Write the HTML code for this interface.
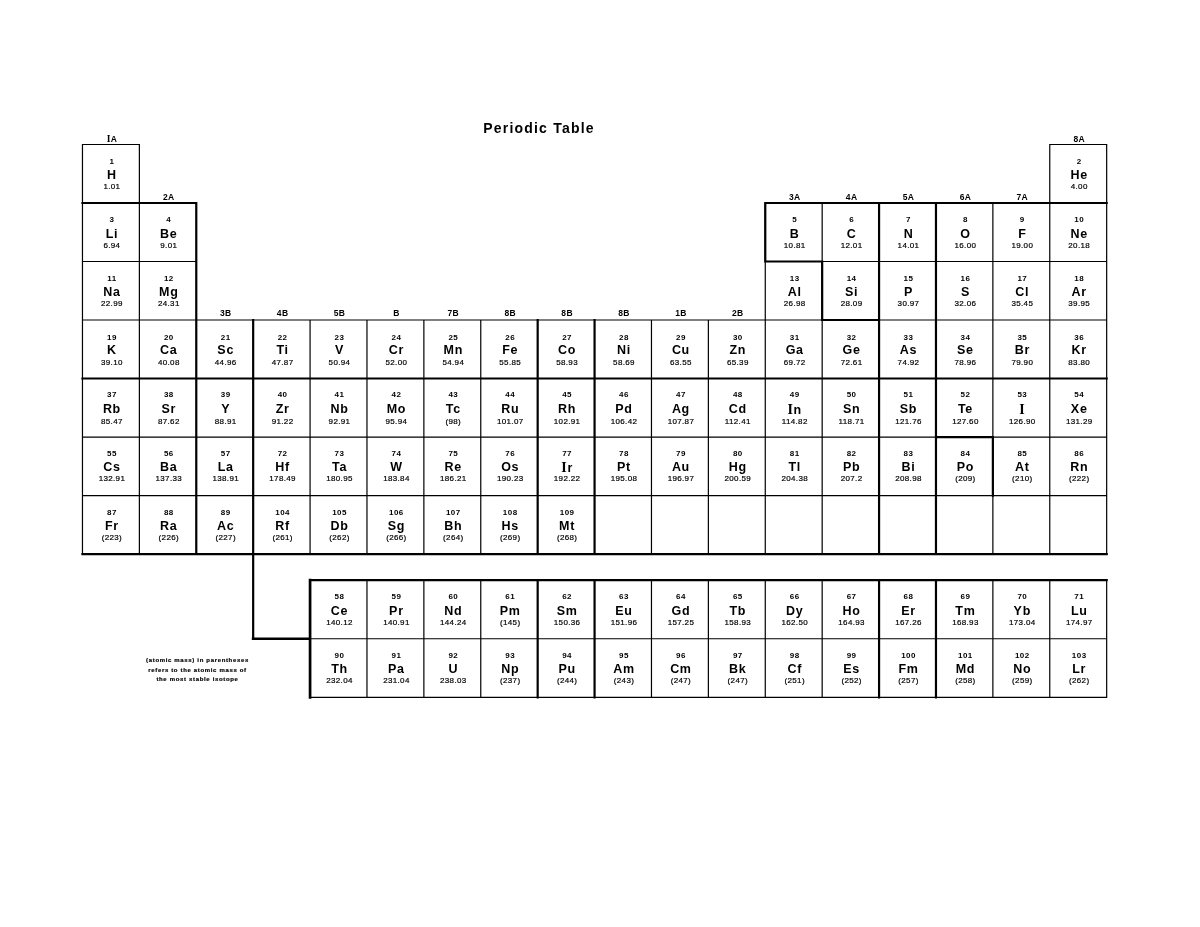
<!DOCTYPE html><html><head><meta charset="utf-8"><style>
html,body{margin:0;padding:0;background:#fff;}
body{width:1200px;height:927px;position:relative;overflow:hidden;font-family:"Liberation Sans",sans-serif;font-weight:bold;color:#000;}
.c{position:absolute;text-align:center;white-space:nowrap;line-height:1;}
#w{position:absolute;left:0;top:0;width:1200px;height:927px;will-change:transform;}
.n{font-size:8px;letter-spacing:0.45px;}
.s{font-size:12.5px;letter-spacing:0.7px;}
.m{font-size:8px;letter-spacing:0.35px;font-weight:normal;-webkit-text-stroke:0.2px #000;}
.g{font-size:8.5px;letter-spacing:0.3px;}
svg{position:absolute;left:0;top:0;}
.i{font-family:"Liberation Serif",serif;font-size:1.12em;}
</style></head><body>
<div id="w">
<svg width="1200" height="927" viewBox="0 0 1200 927"><path d="M82.47 144.48H139.37M1049.77 144.48H1106.67M82.47 144.48V554.05M139.37 144.48V554.05M1049.77 144.48V554.05M1106.67 144.48V554.05M765.27 202.99V554.05M822.17 202.99V554.05M992.87 202.99V554.05M82.47 261.5H196.27M765.27 261.5H1106.67M82.47 320.01H1106.67M82.47 437.03H1106.67M82.47 495.54H1106.67M310.07 320.01V554.05M366.97 320.01V554.05M423.87 320.01V554.05M480.77 320.01V554.05M651.47 320.01V554.05M708.37 320.01V554.05M310.07 638.74H1106.67M310.07 697.41H1106.67M366.97 580.07V697.41M423.87 580.07V697.41M480.77 580.07V697.41M651.47 580.07V697.41M708.37 580.07V697.41M765.27 580.07V697.41M822.17 580.07V697.41M992.87 580.07V697.41M1049.77 580.07V697.41M1106.67 580.07V697.41" stroke="#000" stroke-width="1.2" fill="none" stroke-linecap="square"/><path d="M82.47 202.99H196.27M765.27 202.99H1106.67M196.27 202.99V554.05M879.07 202.99V554.05M935.97 202.99V554.05M82.47 378.52H1106.67M82.47 554.05H1106.67M253.17 320.01V554.05M537.67 320.01V554.05M594.57 320.01V554.05M765.27 202.99V261.5M765.27 261.5H822.17M822.17 261.5V320.01M822.17 320.01H879.07M935.97 437.03H992.87M992.87 437.03V495.54M253.17 554.05V638.74M310.07 580.07H1106.67M537.67 580.07V697.41M594.57 580.07V697.41M879.07 580.07V697.41M935.97 580.07V697.41" stroke="#000" stroke-width="2.2" fill="none" stroke-linecap="square"/><path d="M253.17 638.74H310.07M310.07 580.07V697.41" stroke="#000" stroke-width="2.7" fill="none" stroke-linecap="square"/></svg>
<div class="c" style="left:389px;width:300px;top:121px;font-size:14px;letter-spacing:1.2px;">Periodic Table</div>
<div class="c n" style="left:83.47px;top:157.68px;width:56.9px">1</div>
<div class="c s" style="left:83.47px;top:169.08px;width:56.9px">H</div>
<div class="c m" style="left:83.47px;top:183.38px;width:56.9px">1.01</div>
<div class="c n" style="left:1050.77px;top:157.68px;width:56.9px">2</div>
<div class="c s" style="left:1050.77px;top:169.08px;width:56.9px">He</div>
<div class="c m" style="left:1050.77px;top:183.38px;width:56.9px">4.00</div>
<div class="c n" style="left:83.47px;top:216.19px;width:56.9px">3</div>
<div class="c s" style="left:83.47px;top:227.59px;width:56.9px">Li</div>
<div class="c m" style="left:83.47px;top:241.89px;width:56.9px">6.94</div>
<div class="c n" style="left:140.37px;top:216.19px;width:56.9px">4</div>
<div class="c s" style="left:140.37px;top:227.59px;width:56.9px">Be</div>
<div class="c m" style="left:140.37px;top:241.89px;width:56.9px">9.01</div>
<div class="c n" style="left:766.27px;top:216.19px;width:56.9px">5</div>
<div class="c s" style="left:766.27px;top:227.59px;width:56.9px">B</div>
<div class="c m" style="left:766.27px;top:241.89px;width:56.9px">10.81</div>
<div class="c n" style="left:823.17px;top:216.19px;width:56.9px">6</div>
<div class="c s" style="left:823.17px;top:227.59px;width:56.9px">C</div>
<div class="c m" style="left:823.17px;top:241.89px;width:56.9px">12.01</div>
<div class="c n" style="left:880.07px;top:216.19px;width:56.9px">7</div>
<div class="c s" style="left:880.07px;top:227.59px;width:56.9px">N</div>
<div class="c m" style="left:880.07px;top:241.89px;width:56.9px">14.01</div>
<div class="c n" style="left:936.97px;top:216.19px;width:56.9px">8</div>
<div class="c s" style="left:936.97px;top:227.59px;width:56.9px">O</div>
<div class="c m" style="left:936.97px;top:241.89px;width:56.9px">16.00</div>
<div class="c n" style="left:993.87px;top:216.19px;width:56.9px">9</div>
<div class="c s" style="left:993.87px;top:227.59px;width:56.9px">F</div>
<div class="c m" style="left:993.87px;top:241.89px;width:56.9px">19.00</div>
<div class="c n" style="left:1050.77px;top:216.19px;width:56.9px">10</div>
<div class="c s" style="left:1050.77px;top:227.59px;width:56.9px">Ne</div>
<div class="c m" style="left:1050.77px;top:241.89px;width:56.9px">20.18</div>
<div class="c n" style="left:83.47px;top:274.7px;width:56.9px">11</div>
<div class="c s" style="left:83.47px;top:286.1px;width:56.9px">Na</div>
<div class="c m" style="left:83.47px;top:300.4px;width:56.9px">22.99</div>
<div class="c n" style="left:140.37px;top:274.7px;width:56.9px">12</div>
<div class="c s" style="left:140.37px;top:286.1px;width:56.9px">Mg</div>
<div class="c m" style="left:140.37px;top:300.4px;width:56.9px">24.31</div>
<div class="c n" style="left:766.27px;top:274.7px;width:56.9px">13</div>
<div class="c s" style="left:766.27px;top:286.1px;width:56.9px">Al</div>
<div class="c m" style="left:766.27px;top:300.4px;width:56.9px">26.98</div>
<div class="c n" style="left:823.17px;top:274.7px;width:56.9px">14</div>
<div class="c s" style="left:823.17px;top:286.1px;width:56.9px">Si</div>
<div class="c m" style="left:823.17px;top:300.4px;width:56.9px">28.09</div>
<div class="c n" style="left:880.07px;top:274.7px;width:56.9px">15</div>
<div class="c s" style="left:880.07px;top:286.1px;width:56.9px">P</div>
<div class="c m" style="left:880.07px;top:300.4px;width:56.9px">30.97</div>
<div class="c n" style="left:936.97px;top:274.7px;width:56.9px">16</div>
<div class="c s" style="left:936.97px;top:286.1px;width:56.9px">S</div>
<div class="c m" style="left:936.97px;top:300.4px;width:56.9px">32.06</div>
<div class="c n" style="left:993.87px;top:274.7px;width:56.9px">17</div>
<div class="c s" style="left:993.87px;top:286.1px;width:56.9px">Cl</div>
<div class="c m" style="left:993.87px;top:300.4px;width:56.9px">35.45</div>
<div class="c n" style="left:1050.77px;top:274.7px;width:56.9px">18</div>
<div class="c s" style="left:1050.77px;top:286.1px;width:56.9px">Ar</div>
<div class="c m" style="left:1050.77px;top:300.4px;width:56.9px">39.95</div>
<div class="c n" style="left:83.47px;top:334.21px;width:56.9px">19</div>
<div class="c s" style="left:83.47px;top:343.61px;width:56.9px">K</div>
<div class="c m" style="left:83.47px;top:358.91px;width:56.9px">39.10</div>
<div class="c n" style="left:140.37px;top:334.21px;width:56.9px">20</div>
<div class="c s" style="left:140.37px;top:343.61px;width:56.9px">Ca</div>
<div class="c m" style="left:140.37px;top:358.91px;width:56.9px">40.08</div>
<div class="c n" style="left:197.27px;top:334.21px;width:56.9px">21</div>
<div class="c s" style="left:197.27px;top:343.61px;width:56.9px">Sc</div>
<div class="c m" style="left:197.27px;top:358.91px;width:56.9px">44.96</div>
<div class="c n" style="left:254.17px;top:334.21px;width:56.9px">22</div>
<div class="c s" style="left:254.17px;top:343.61px;width:56.9px">Ti</div>
<div class="c m" style="left:254.17px;top:358.91px;width:56.9px">47.87</div>
<div class="c n" style="left:311.07px;top:334.21px;width:56.9px">23</div>
<div class="c s" style="left:311.07px;top:343.61px;width:56.9px">V</div>
<div class="c m" style="left:311.07px;top:358.91px;width:56.9px">50.94</div>
<div class="c n" style="left:367.97px;top:334.21px;width:56.9px">24</div>
<div class="c s" style="left:367.97px;top:343.61px;width:56.9px">Cr</div>
<div class="c m" style="left:367.97px;top:358.91px;width:56.9px">52.00</div>
<div class="c n" style="left:424.87px;top:334.21px;width:56.9px">25</div>
<div class="c s" style="left:424.87px;top:343.61px;width:56.9px">Mn</div>
<div class="c m" style="left:424.87px;top:358.91px;width:56.9px">54.94</div>
<div class="c n" style="left:481.77px;top:334.21px;width:56.9px">26</div>
<div class="c s" style="left:481.77px;top:343.61px;width:56.9px">Fe</div>
<div class="c m" style="left:481.77px;top:358.91px;width:56.9px">55.85</div>
<div class="c n" style="left:538.67px;top:334.21px;width:56.9px">27</div>
<div class="c s" style="left:538.67px;top:343.61px;width:56.9px">Co</div>
<div class="c m" style="left:538.67px;top:358.91px;width:56.9px">58.93</div>
<div class="c n" style="left:595.57px;top:334.21px;width:56.9px">28</div>
<div class="c s" style="left:595.57px;top:343.61px;width:56.9px">Ni</div>
<div class="c m" style="left:595.57px;top:358.91px;width:56.9px">58.69</div>
<div class="c n" style="left:652.47px;top:334.21px;width:56.9px">29</div>
<div class="c s" style="left:652.47px;top:343.61px;width:56.9px">Cu</div>
<div class="c m" style="left:652.47px;top:358.91px;width:56.9px">63.55</div>
<div class="c n" style="left:709.37px;top:334.21px;width:56.9px">30</div>
<div class="c s" style="left:709.37px;top:343.61px;width:56.9px">Zn</div>
<div class="c m" style="left:709.37px;top:358.91px;width:56.9px">65.39</div>
<div class="c n" style="left:766.27px;top:334.21px;width:56.9px">31</div>
<div class="c s" style="left:766.27px;top:343.61px;width:56.9px">Ga</div>
<div class="c m" style="left:766.27px;top:358.91px;width:56.9px">69.72</div>
<div class="c n" style="left:823.17px;top:334.21px;width:56.9px">32</div>
<div class="c s" style="left:823.17px;top:343.61px;width:56.9px">Ge</div>
<div class="c m" style="left:823.17px;top:358.91px;width:56.9px">72.61</div>
<div class="c n" style="left:880.07px;top:334.21px;width:56.9px">33</div>
<div class="c s" style="left:880.07px;top:343.61px;width:56.9px">As</div>
<div class="c m" style="left:880.07px;top:358.91px;width:56.9px">74.92</div>
<div class="c n" style="left:936.97px;top:334.21px;width:56.9px">34</div>
<div class="c s" style="left:936.97px;top:343.61px;width:56.9px">Se</div>
<div class="c m" style="left:936.97px;top:358.91px;width:56.9px">78.96</div>
<div class="c n" style="left:993.87px;top:334.21px;width:56.9px">35</div>
<div class="c s" style="left:993.87px;top:343.61px;width:56.9px">Br</div>
<div class="c m" style="left:993.87px;top:358.91px;width:56.9px">79.90</div>
<div class="c n" style="left:1050.77px;top:334.21px;width:56.9px">36</div>
<div class="c s" style="left:1050.77px;top:343.61px;width:56.9px">Kr</div>
<div class="c m" style="left:1050.77px;top:358.91px;width:56.9px">83.80</div>
<div class="c n" style="left:83.47px;top:390.72px;width:56.9px">37</div>
<div class="c s" style="left:83.47px;top:403.12px;width:56.9px">Rb</div>
<div class="c m" style="left:83.47px;top:418.42px;width:56.9px">85.47</div>
<div class="c n" style="left:140.37px;top:390.72px;width:56.9px">38</div>
<div class="c s" style="left:140.37px;top:403.12px;width:56.9px">Sr</div>
<div class="c m" style="left:140.37px;top:418.42px;width:56.9px">87.62</div>
<div class="c n" style="left:197.27px;top:390.72px;width:56.9px">39</div>
<div class="c s" style="left:197.27px;top:403.12px;width:56.9px">Y</div>
<div class="c m" style="left:197.27px;top:418.42px;width:56.9px">88.91</div>
<div class="c n" style="left:254.17px;top:390.72px;width:56.9px">40</div>
<div class="c s" style="left:254.17px;top:403.12px;width:56.9px">Zr</div>
<div class="c m" style="left:254.17px;top:418.42px;width:56.9px">91.22</div>
<div class="c n" style="left:311.07px;top:390.72px;width:56.9px">41</div>
<div class="c s" style="left:311.07px;top:403.12px;width:56.9px">Nb</div>
<div class="c m" style="left:311.07px;top:418.42px;width:56.9px">92.91</div>
<div class="c n" style="left:367.97px;top:390.72px;width:56.9px">42</div>
<div class="c s" style="left:367.97px;top:403.12px;width:56.9px">Mo</div>
<div class="c m" style="left:367.97px;top:418.42px;width:56.9px">95.94</div>
<div class="c n" style="left:424.87px;top:390.72px;width:56.9px">43</div>
<div class="c s" style="left:424.87px;top:403.12px;width:56.9px">Tc</div>
<div class="c m" style="left:424.87px;top:418.42px;width:56.9px">(98)</div>
<div class="c n" style="left:481.77px;top:390.72px;width:56.9px">44</div>
<div class="c s" style="left:481.77px;top:403.12px;width:56.9px">Ru</div>
<div class="c m" style="left:481.77px;top:418.42px;width:56.9px">101.07</div>
<div class="c n" style="left:538.67px;top:390.72px;width:56.9px">45</div>
<div class="c s" style="left:538.67px;top:403.12px;width:56.9px">Rh</div>
<div class="c m" style="left:538.67px;top:418.42px;width:56.9px">102.91</div>
<div class="c n" style="left:595.57px;top:390.72px;width:56.9px">46</div>
<div class="c s" style="left:595.57px;top:403.12px;width:56.9px">Pd</div>
<div class="c m" style="left:595.57px;top:418.42px;width:56.9px">106.42</div>
<div class="c n" style="left:652.47px;top:390.72px;width:56.9px">47</div>
<div class="c s" style="left:652.47px;top:403.12px;width:56.9px">Ag</div>
<div class="c m" style="left:652.47px;top:418.42px;width:56.9px">107.87</div>
<div class="c n" style="left:709.37px;top:390.72px;width:56.9px">48</div>
<div class="c s" style="left:709.37px;top:403.12px;width:56.9px">Cd</div>
<div class="c m" style="left:709.37px;top:418.42px;width:56.9px">112.41</div>
<div class="c n" style="left:766.27px;top:390.72px;width:56.9px">49</div>
<div class="c s" style="left:766.27px;top:403.12px;width:56.9px"><span class="i">I</span>n</div>
<div class="c m" style="left:766.27px;top:418.42px;width:56.9px">114.82</div>
<div class="c n" style="left:823.17px;top:390.72px;width:56.9px">50</div>
<div class="c s" style="left:823.17px;top:403.12px;width:56.9px">Sn</div>
<div class="c m" style="left:823.17px;top:418.42px;width:56.9px">118.71</div>
<div class="c n" style="left:880.07px;top:390.72px;width:56.9px">51</div>
<div class="c s" style="left:880.07px;top:403.12px;width:56.9px">Sb</div>
<div class="c m" style="left:880.07px;top:418.42px;width:56.9px">121.76</div>
<div class="c n" style="left:936.97px;top:390.72px;width:56.9px">52</div>
<div class="c s" style="left:936.97px;top:403.12px;width:56.9px">Te</div>
<div class="c m" style="left:936.97px;top:418.42px;width:56.9px">127.60</div>
<div class="c n" style="left:993.87px;top:390.72px;width:56.9px">53</div>
<div class="c s" style="left:993.87px;top:403.12px;width:56.9px"><span class="i">I</span></div>
<div class="c m" style="left:993.87px;top:418.42px;width:56.9px">126.90</div>
<div class="c n" style="left:1050.77px;top:390.72px;width:56.9px">54</div>
<div class="c s" style="left:1050.77px;top:403.12px;width:56.9px">Xe</div>
<div class="c m" style="left:1050.77px;top:418.42px;width:56.9px">131.29</div>
<div class="c n" style="left:83.47px;top:450.23px;width:56.9px">55</div>
<div class="c s" style="left:83.47px;top:460.63px;width:56.9px">Cs</div>
<div class="c m" style="left:83.47px;top:474.93px;width:56.9px">132.91</div>
<div class="c n" style="left:140.37px;top:450.23px;width:56.9px">56</div>
<div class="c s" style="left:140.37px;top:460.63px;width:56.9px">Ba</div>
<div class="c m" style="left:140.37px;top:474.93px;width:56.9px">137.33</div>
<div class="c n" style="left:197.27px;top:450.23px;width:56.9px">57</div>
<div class="c s" style="left:197.27px;top:460.63px;width:56.9px">La</div>
<div class="c m" style="left:197.27px;top:474.93px;width:56.9px">138.91</div>
<div class="c n" style="left:254.17px;top:450.23px;width:56.9px">72</div>
<div class="c s" style="left:254.17px;top:460.63px;width:56.9px">Hf</div>
<div class="c m" style="left:254.17px;top:474.93px;width:56.9px">178.49</div>
<div class="c n" style="left:311.07px;top:450.23px;width:56.9px">73</div>
<div class="c s" style="left:311.07px;top:460.63px;width:56.9px">Ta</div>
<div class="c m" style="left:311.07px;top:474.93px;width:56.9px">180.95</div>
<div class="c n" style="left:367.97px;top:450.23px;width:56.9px">74</div>
<div class="c s" style="left:367.97px;top:460.63px;width:56.9px">W</div>
<div class="c m" style="left:367.97px;top:474.93px;width:56.9px">183.84</div>
<div class="c n" style="left:424.87px;top:450.23px;width:56.9px">75</div>
<div class="c s" style="left:424.87px;top:460.63px;width:56.9px">Re</div>
<div class="c m" style="left:424.87px;top:474.93px;width:56.9px">186.21</div>
<div class="c n" style="left:481.77px;top:450.23px;width:56.9px">76</div>
<div class="c s" style="left:481.77px;top:460.63px;width:56.9px">Os</div>
<div class="c m" style="left:481.77px;top:474.93px;width:56.9px">190.23</div>
<div class="c n" style="left:538.67px;top:450.23px;width:56.9px">77</div>
<div class="c s" style="left:538.67px;top:460.63px;width:56.9px"><span class="i">I</span>r</div>
<div class="c m" style="left:538.67px;top:474.93px;width:56.9px">192.22</div>
<div class="c n" style="left:595.57px;top:450.23px;width:56.9px">78</div>
<div class="c s" style="left:595.57px;top:460.63px;width:56.9px">Pt</div>
<div class="c m" style="left:595.57px;top:474.93px;width:56.9px">195.08</div>
<div class="c n" style="left:652.47px;top:450.23px;width:56.9px">79</div>
<div class="c s" style="left:652.47px;top:460.63px;width:56.9px">Au</div>
<div class="c m" style="left:652.47px;top:474.93px;width:56.9px">196.97</div>
<div class="c n" style="left:709.37px;top:450.23px;width:56.9px">80</div>
<div class="c s" style="left:709.37px;top:460.63px;width:56.9px">Hg</div>
<div class="c m" style="left:709.37px;top:474.93px;width:56.9px">200.59</div>
<div class="c n" style="left:766.27px;top:450.23px;width:56.9px">81</div>
<div class="c s" style="left:766.27px;top:460.63px;width:56.9px">Tl</div>
<div class="c m" style="left:766.27px;top:474.93px;width:56.9px">204.38</div>
<div class="c n" style="left:823.17px;top:450.23px;width:56.9px">82</div>
<div class="c s" style="left:823.17px;top:460.63px;width:56.9px">Pb</div>
<div class="c m" style="left:823.17px;top:474.93px;width:56.9px">207.2</div>
<div class="c n" style="left:880.07px;top:450.23px;width:56.9px">83</div>
<div class="c s" style="left:880.07px;top:460.63px;width:56.9px">Bi</div>
<div class="c m" style="left:880.07px;top:474.93px;width:56.9px">208.98</div>
<div class="c n" style="left:936.97px;top:450.23px;width:56.9px">84</div>
<div class="c s" style="left:936.97px;top:460.63px;width:56.9px">Po</div>
<div class="c m" style="left:936.97px;top:474.93px;width:56.9px">(209)</div>
<div class="c n" style="left:993.87px;top:450.23px;width:56.9px">85</div>
<div class="c s" style="left:993.87px;top:460.63px;width:56.9px">At</div>
<div class="c m" style="left:993.87px;top:474.93px;width:56.9px">(210)</div>
<div class="c n" style="left:1050.77px;top:450.23px;width:56.9px">86</div>
<div class="c s" style="left:1050.77px;top:460.63px;width:56.9px">Rn</div>
<div class="c m" style="left:1050.77px;top:474.93px;width:56.9px">(222)</div>
<div class="c n" style="left:83.47px;top:508.74px;width:56.9px">87</div>
<div class="c s" style="left:83.47px;top:520.14px;width:56.9px">Fr</div>
<div class="c m" style="left:83.47px;top:534.44px;width:56.9px">(223)</div>
<div class="c n" style="left:140.37px;top:508.74px;width:56.9px">88</div>
<div class="c s" style="left:140.37px;top:520.14px;width:56.9px">Ra</div>
<div class="c m" style="left:140.37px;top:534.44px;width:56.9px">(226)</div>
<div class="c n" style="left:197.27px;top:508.74px;width:56.9px">89</div>
<div class="c s" style="left:197.27px;top:520.14px;width:56.9px">Ac</div>
<div class="c m" style="left:197.27px;top:534.44px;width:56.9px">(227)</div>
<div class="c n" style="left:254.17px;top:508.74px;width:56.9px">104</div>
<div class="c s" style="left:254.17px;top:520.14px;width:56.9px">Rf</div>
<div class="c m" style="left:254.17px;top:534.44px;width:56.9px">(261)</div>
<div class="c n" style="left:311.07px;top:508.74px;width:56.9px">105</div>
<div class="c s" style="left:311.07px;top:520.14px;width:56.9px">Db</div>
<div class="c m" style="left:311.07px;top:534.44px;width:56.9px">(262)</div>
<div class="c n" style="left:367.97px;top:508.74px;width:56.9px">106</div>
<div class="c s" style="left:367.97px;top:520.14px;width:56.9px">Sg</div>
<div class="c m" style="left:367.97px;top:534.44px;width:56.9px">(266)</div>
<div class="c n" style="left:424.87px;top:508.74px;width:56.9px">107</div>
<div class="c s" style="left:424.87px;top:520.14px;width:56.9px">Bh</div>
<div class="c m" style="left:424.87px;top:534.44px;width:56.9px">(264)</div>
<div class="c n" style="left:481.77px;top:508.74px;width:56.9px">108</div>
<div class="c s" style="left:481.77px;top:520.14px;width:56.9px">Hs</div>
<div class="c m" style="left:481.77px;top:534.44px;width:56.9px">(269)</div>
<div class="c n" style="left:538.67px;top:508.74px;width:56.9px">109</div>
<div class="c s" style="left:538.67px;top:520.14px;width:56.9px">Mt</div>
<div class="c m" style="left:538.67px;top:534.44px;width:56.9px">(268)</div>
<div class="c n" style="left:311.07px;top:593.27px;width:56.9px">58</div>
<div class="c s" style="left:311.07px;top:604.67px;width:56.9px">Ce</div>
<div class="c m" style="left:311.07px;top:618.97px;width:56.9px">140.12</div>
<div class="c n" style="left:367.97px;top:593.27px;width:56.9px">59</div>
<div class="c s" style="left:367.97px;top:604.67px;width:56.9px">Pr</div>
<div class="c m" style="left:367.97px;top:618.97px;width:56.9px">140.91</div>
<div class="c n" style="left:424.87px;top:593.27px;width:56.9px">60</div>
<div class="c s" style="left:424.87px;top:604.67px;width:56.9px">Nd</div>
<div class="c m" style="left:424.87px;top:618.97px;width:56.9px">144.24</div>
<div class="c n" style="left:481.77px;top:593.27px;width:56.9px">61</div>
<div class="c s" style="left:481.77px;top:604.67px;width:56.9px">Pm</div>
<div class="c m" style="left:481.77px;top:618.97px;width:56.9px">(145)</div>
<div class="c n" style="left:538.67px;top:593.27px;width:56.9px">62</div>
<div class="c s" style="left:538.67px;top:604.67px;width:56.9px">Sm</div>
<div class="c m" style="left:538.67px;top:618.97px;width:56.9px">150.36</div>
<div class="c n" style="left:595.57px;top:593.27px;width:56.9px">63</div>
<div class="c s" style="left:595.57px;top:604.67px;width:56.9px">Eu</div>
<div class="c m" style="left:595.57px;top:618.97px;width:56.9px">151.96</div>
<div class="c n" style="left:652.47px;top:593.27px;width:56.9px">64</div>
<div class="c s" style="left:652.47px;top:604.67px;width:56.9px">Gd</div>
<div class="c m" style="left:652.47px;top:618.97px;width:56.9px">157.25</div>
<div class="c n" style="left:709.37px;top:593.27px;width:56.9px">65</div>
<div class="c s" style="left:709.37px;top:604.67px;width:56.9px">Tb</div>
<div class="c m" style="left:709.37px;top:618.97px;width:56.9px">158.93</div>
<div class="c n" style="left:766.27px;top:593.27px;width:56.9px">66</div>
<div class="c s" style="left:766.27px;top:604.67px;width:56.9px">Dy</div>
<div class="c m" style="left:766.27px;top:618.97px;width:56.9px">162.50</div>
<div class="c n" style="left:823.17px;top:593.27px;width:56.9px">67</div>
<div class="c s" style="left:823.17px;top:604.67px;width:56.9px">Ho</div>
<div class="c m" style="left:823.17px;top:618.97px;width:56.9px">164.93</div>
<div class="c n" style="left:880.07px;top:593.27px;width:56.9px">68</div>
<div class="c s" style="left:880.07px;top:604.67px;width:56.9px">Er</div>
<div class="c m" style="left:880.07px;top:618.97px;width:56.9px">167.26</div>
<div class="c n" style="left:936.97px;top:593.27px;width:56.9px">69</div>
<div class="c s" style="left:936.97px;top:604.67px;width:56.9px">Tm</div>
<div class="c m" style="left:936.97px;top:618.97px;width:56.9px">168.93</div>
<div class="c n" style="left:993.87px;top:593.27px;width:56.9px">70</div>
<div class="c s" style="left:993.87px;top:604.67px;width:56.9px">Yb</div>
<div class="c m" style="left:993.87px;top:618.97px;width:56.9px">173.04</div>
<div class="c n" style="left:1050.77px;top:593.27px;width:56.9px">71</div>
<div class="c s" style="left:1050.77px;top:604.67px;width:56.9px">Lu</div>
<div class="c m" style="left:1050.77px;top:618.97px;width:56.9px">174.97</div>
<div class="c n" style="left:311.07px;top:651.94px;width:56.9px">90</div>
<div class="c s" style="left:311.07px;top:663.34px;width:56.9px">Th</div>
<div class="c m" style="left:311.07px;top:676.64px;width:56.9px">232.04</div>
<div class="c n" style="left:367.97px;top:651.94px;width:56.9px">91</div>
<div class="c s" style="left:367.97px;top:663.34px;width:56.9px">Pa</div>
<div class="c m" style="left:367.97px;top:676.64px;width:56.9px">231.04</div>
<div class="c n" style="left:424.87px;top:651.94px;width:56.9px">92</div>
<div class="c s" style="left:424.87px;top:663.34px;width:56.9px">U</div>
<div class="c m" style="left:424.87px;top:676.64px;width:56.9px">238.03</div>
<div class="c n" style="left:481.77px;top:651.94px;width:56.9px">93</div>
<div class="c s" style="left:481.77px;top:663.34px;width:56.9px">Np</div>
<div class="c m" style="left:481.77px;top:676.64px;width:56.9px">(237)</div>
<div class="c n" style="left:538.67px;top:651.94px;width:56.9px">94</div>
<div class="c s" style="left:538.67px;top:663.34px;width:56.9px">Pu</div>
<div class="c m" style="left:538.67px;top:676.64px;width:56.9px">(244)</div>
<div class="c n" style="left:595.57px;top:651.94px;width:56.9px">95</div>
<div class="c s" style="left:595.57px;top:663.34px;width:56.9px">Am</div>
<div class="c m" style="left:595.57px;top:676.64px;width:56.9px">(243)</div>
<div class="c n" style="left:652.47px;top:651.94px;width:56.9px">96</div>
<div class="c s" style="left:652.47px;top:663.34px;width:56.9px">Cm</div>
<div class="c m" style="left:652.47px;top:676.64px;width:56.9px">(247)</div>
<div class="c n" style="left:709.37px;top:651.94px;width:56.9px">97</div>
<div class="c s" style="left:709.37px;top:663.34px;width:56.9px">Bk</div>
<div class="c m" style="left:709.37px;top:676.64px;width:56.9px">(247)</div>
<div class="c n" style="left:766.27px;top:651.94px;width:56.9px">98</div>
<div class="c s" style="left:766.27px;top:663.34px;width:56.9px">Cf</div>
<div class="c m" style="left:766.27px;top:676.64px;width:56.9px">(251)</div>
<div class="c n" style="left:823.17px;top:651.94px;width:56.9px">99</div>
<div class="c s" style="left:823.17px;top:663.34px;width:56.9px">Es</div>
<div class="c m" style="left:823.17px;top:676.64px;width:56.9px">(252)</div>
<div class="c n" style="left:880.07px;top:651.94px;width:56.9px">100</div>
<div class="c s" style="left:880.07px;top:663.34px;width:56.9px">Fm</div>
<div class="c m" style="left:880.07px;top:676.64px;width:56.9px">(257)</div>
<div class="c n" style="left:936.97px;top:651.94px;width:56.9px">101</div>
<div class="c s" style="left:936.97px;top:663.34px;width:56.9px">Md</div>
<div class="c m" style="left:936.97px;top:676.64px;width:56.9px">(258)</div>
<div class="c n" style="left:993.87px;top:651.94px;width:56.9px">102</div>
<div class="c s" style="left:993.87px;top:663.34px;width:56.9px">No</div>
<div class="c m" style="left:993.87px;top:676.64px;width:56.9px">(259)</div>
<div class="c n" style="left:1050.77px;top:651.94px;width:56.9px">103</div>
<div class="c s" style="left:1050.77px;top:663.34px;width:56.9px">Lr</div>
<div class="c m" style="left:1050.77px;top:676.64px;width:56.9px">(262)</div>
<div class="c g" style="left:83.47px;top:134.98px;width:56.9px"><span class="i">I</span>A</div>
<div class="c g" style="left:1050.77px;top:134.98px;width:56.9px">8A</div>
<div class="c g" style="left:140.37px;top:193.49px;width:56.9px">2A</div>
<div class="c g" style="left:766.27px;top:193.49px;width:56.9px">3A</div>
<div class="c g" style="left:823.17px;top:193.49px;width:56.9px">4A</div>
<div class="c g" style="left:880.07px;top:193.49px;width:56.9px">5A</div>
<div class="c g" style="left:936.97px;top:193.49px;width:56.9px">6A</div>
<div class="c g" style="left:993.87px;top:193.49px;width:56.9px">7A</div>
<div class="c g" style="left:197.27px;top:309.01px;width:56.9px">3B</div>
<div class="c g" style="left:254.17px;top:309.01px;width:56.9px">4B</div>
<div class="c g" style="left:311.07px;top:309.01px;width:56.9px">5B</div>
<div class="c g" style="left:367.97px;top:309.01px;width:56.9px">B</div>
<div class="c g" style="left:424.87px;top:309.01px;width:56.9px">7B</div>
<div class="c g" style="left:481.77px;top:309.01px;width:56.9px">8B</div>
<div class="c g" style="left:538.67px;top:309.01px;width:56.9px">8B</div>
<div class="c g" style="left:595.57px;top:309.01px;width:56.9px">8B</div>
<div class="c g" style="left:652.47px;top:309.01px;width:56.9px">1B</div>
<div class="c g" style="left:709.37px;top:309.01px;width:56.9px">2B</div>
<div class="c" style="left:97.5px;top:656px;width:200px;font-size:6px;line-height:9.5px;letter-spacing:0.66px;-webkit-text-stroke:0.2px #000">(atomic mass) in parentheses<br>refers to the atomic mass of<br>the most stable isotope</div>
</div></body></html>
